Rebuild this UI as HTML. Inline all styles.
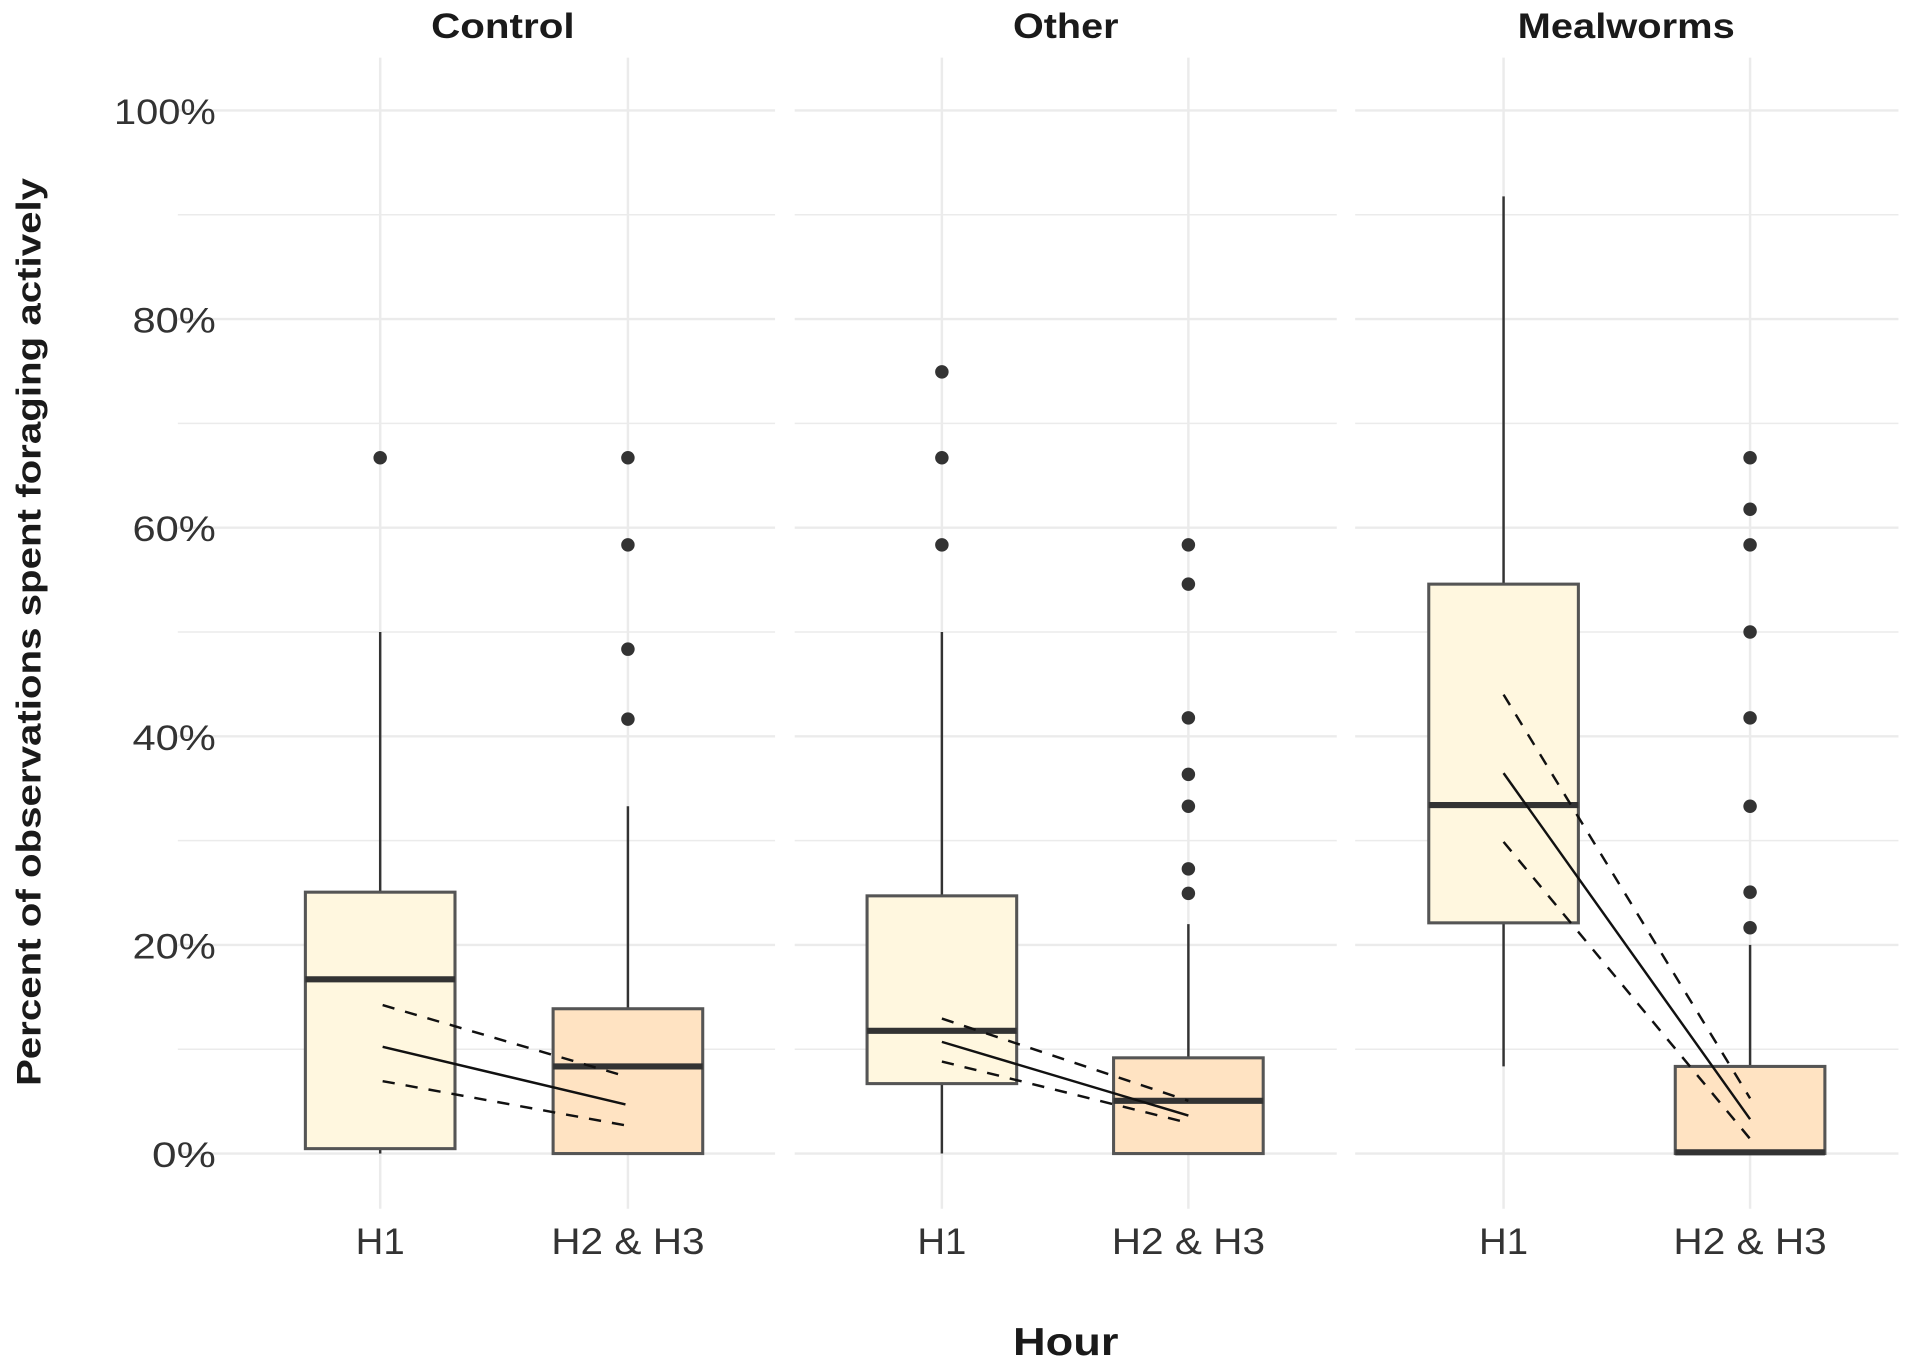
<!DOCTYPE html>
<html><head><meta charset="utf-8"><style>
html,body{margin:0;padding:0;background:#fff;}
svg{display:block;}
text{font-family:"Liberation Sans",sans-serif;}
</style></head><body>
<svg width="1923" height="1372" viewBox="0 0 1568 1118" preserveAspectRatio="none" xmlns="http://www.w3.org/2000/svg">
<g stroke="#ebebeb" stroke-width="2" fill="none">
  <g>
    <line x1="145" x2="632" y1="90" y2="90"/><line x1="145" x2="632" y1="260" y2="260"/><line x1="145" x2="632" y1="430" y2="430"/><line x1="145" x2="632" y1="600" y2="600"/><line x1="145" x2="632" y1="770" y2="770"/><line x1="145" x2="632" y1="940" y2="940"/>
    <line x1="145" x2="632" y1="175" y2="175" stroke-width="1.3"/><line x1="145" x2="632" y1="345" y2="345" stroke-width="1.3"/><line x1="145" x2="632" y1="515" y2="515" stroke-width="1.3"/><line x1="145" x2="632" y1="685" y2="685" stroke-width="1.3"/><line x1="145" x2="632" y1="855" y2="855" stroke-width="1.3"/>
  </g>
  <g transform="translate(503,0)">
    <line x1="145" x2="587" y1="90" y2="90"/><line x1="145" x2="587" y1="260" y2="260"/><line x1="145" x2="587" y1="430" y2="430"/><line x1="145" x2="587" y1="600" y2="600"/><line x1="145" x2="587" y1="770" y2="770"/><line x1="145" x2="587" y1="940" y2="940"/>
    <line x1="145" x2="587" y1="175" y2="175" stroke-width="1.3"/><line x1="145" x2="587" y1="345" y2="345" stroke-width="1.3"/><line x1="145" x2="587" y1="515" y2="515" stroke-width="1.3"/><line x1="145" x2="587" y1="685" y2="685" stroke-width="1.3"/><line x1="145" x2="587" y1="855" y2="855" stroke-width="1.3"/>
  </g>
  <g transform="translate(960,0)">
    <line x1="145" x2="588" y1="90" y2="90"/><line x1="145" x2="588" y1="260" y2="260"/><line x1="145" x2="588" y1="430" y2="430"/><line x1="145" x2="588" y1="600" y2="600"/><line x1="145" x2="588" y1="770" y2="770"/><line x1="145" x2="588" y1="940" y2="940"/>
    <line x1="145" x2="588" y1="175" y2="175" stroke-width="1.3"/><line x1="145" x2="588" y1="345" y2="345" stroke-width="1.3"/><line x1="145" x2="588" y1="515" y2="515" stroke-width="1.3"/><line x1="145" x2="588" y1="685" y2="685" stroke-width="1.3"/><line x1="145" x2="588" y1="855" y2="855" stroke-width="1.3"/>
  </g>
  <line x1="310" x2="310" y1="47" y2="985"/><line x1="512" x2="512" y1="47" y2="985"/>
  <line x1="768" x2="768" y1="47" y2="985"/><line x1="969" x2="969" y1="47" y2="985"/>
  <line x1="1226" x2="1226" y1="47" y2="985"/><line x1="1427" x2="1427" y1="47" y2="985"/>
</g>

<g stroke="#333" stroke-width="2" fill="none">
  <line x1="310" x2="310" y1="515" y2="727"/><line x1="310" x2="310" y1="936" y2="940"/>
  <line x1="512" x2="512" y1="657" y2="822"/>
  <line x1="768" x2="768" y1="515" y2="730"/><line x1="768" x2="768" y1="883" y2="940"/>
  <line x1="969" x2="969" y1="753" y2="862"/>
  <line x1="1226" x2="1226" y1="160" y2="476"/><line x1="1226" x2="1226" y1="752" y2="869"/>
  <line x1="1427" x2="1427" y1="770" y2="869"/>
</g>
<g stroke="#555" stroke-width="2.5">
  <rect x="249" y="727" width="122" height="209" fill="#fff7df"/>
  <rect x="451" y="822" width="122" height="118" fill="#ffe3c2"/>
  <rect x="707" y="730" width="122" height="153" fill="#fff7df"/>
  <rect x="908" y="862" width="122" height="78" fill="#ffe3c2"/>
  <rect x="1165" y="476" width="122" height="276" fill="#fff7df"/>
  <rect x="1366" y="869" width="122" height="71" fill="#ffe3c2"/>
</g>
<g stroke="#333" stroke-width="5">
  <line x1="249" x2="371" y1="798" y2="798"/>
  <line x1="451" x2="573" y1="869" y2="869"/>
  <line x1="707" x2="829" y1="840" y2="840"/>
  <line x1="908" x2="1030" y1="897" y2="897"/>
  <line x1="1165" x2="1287" y1="656" y2="656"/>
  <line x1="1366" x2="1488" y1="939" y2="939"/>
</g>
<g fill="#333">
  <circle cx="310" cy="373" r="5.5"/>
  <circle cx="512" cy="373" r="5.5"/><circle cx="512" cy="444" r="5.5"/><circle cx="512" cy="529" r="5.5"/><circle cx="512" cy="586" r="5.5"/>
  <circle cx="768" cy="303" r="5.5"/><circle cx="768" cy="373" r="5.5"/><circle cx="768" cy="444" r="5.5"/>
  <circle cx="969" cy="444" r="5.5"/><circle cx="969" cy="476" r="5.5"/><circle cx="969" cy="585" r="5.5"/><circle cx="969" cy="631" r="5.5"/><circle cx="969" cy="657" r="5.5"/><circle cx="969" cy="708" r="5.5"/><circle cx="969" cy="728" r="5.5"/>
  <circle cx="1427" cy="373" r="5.5"/><circle cx="1427" cy="415" r="5.5"/><circle cx="1427" cy="444" r="5.5"/><circle cx="1427" cy="515" r="5.5"/><circle cx="1427" cy="585" r="5.5"/><circle cx="1427" cy="657" r="5.5"/><circle cx="1427" cy="727" r="5.5"/><circle cx="1427" cy="756" r="5.5"/>
</g>
<g stroke="#111" stroke-width="2" fill="none">
  <line x1="312" y1="853" x2="510" y2="900"/>
  <line x1="768" y1="849" x2="969" y2="909"/>
  <line x1="1226" y1="630" x2="1427" y2="912"/>
</g>
<g stroke="#111" stroke-width="2" fill="none" stroke-dasharray="10,9">
  <line x1="312" y1="819" x2="510" y2="877"/><line x1="312" y1="881" x2="510" y2="917"/>
  <line x1="768" y1="830" x2="969" y2="897"/><line x1="768" y1="865" x2="969" y2="915"/>
  <line x1="1226" y1="566" x2="1427" y2="895"/><line x1="1226" y1="686" x2="1427" y2="928"/>
</g>

<g font-size="29" fill="#1a1a1a" font-weight="bold" text-anchor="middle">
  <text x="410" y="31" textLength="117" lengthAdjust="spacingAndGlyphs">Control</text>
  <text x="869" y="31" textLength="86" lengthAdjust="spacingAndGlyphs">Other</text>
  <text x="1326" y="31" textLength="177" lengthAdjust="spacingAndGlyphs">Mealworms</text>
  <text x="869" y="1104" font-size="32" textLength="86" lengthAdjust="spacingAndGlyphs">Hour</text>
  <text transform="translate(33,515) rotate(-90)" font-size="28" textLength="740" lengthAdjust="spacingAndGlyphs">Percent of observations spent foraging actively</text>
</g>
<g font-size="29" fill="#333" text-anchor="end">
  <text x="176" y="101" textLength="83" lengthAdjust="spacingAndGlyphs">100%</text>
  <text x="176" y="271" textLength="68" lengthAdjust="spacingAndGlyphs">80%</text>
  <text x="176" y="441" textLength="68" lengthAdjust="spacingAndGlyphs">60%</text>
  <text x="176" y="611" textLength="68" lengthAdjust="spacingAndGlyphs">40%</text>
  <text x="176" y="781" textLength="68" lengthAdjust="spacingAndGlyphs">20%</text>
  <text x="176" y="951" textLength="52" lengthAdjust="spacingAndGlyphs">0%</text>
</g>
<g font-size="30" fill="#333" text-anchor="middle">
  <text x="310" y="1022" textLength="40" lengthAdjust="spacingAndGlyphs">H1</text><text x="512" y="1022" textLength="125" lengthAdjust="spacingAndGlyphs">H2 &amp; H3</text>
  <text x="768" y="1022" textLength="40" lengthAdjust="spacingAndGlyphs">H1</text><text x="969" y="1022" textLength="125" lengthAdjust="spacingAndGlyphs">H2 &amp; H3</text>
  <text x="1226" y="1022" textLength="40" lengthAdjust="spacingAndGlyphs">H1</text><text x="1427" y="1022" textLength="125" lengthAdjust="spacingAndGlyphs">H2 &amp; H3</text>
</g>
</svg>
</body></html>
